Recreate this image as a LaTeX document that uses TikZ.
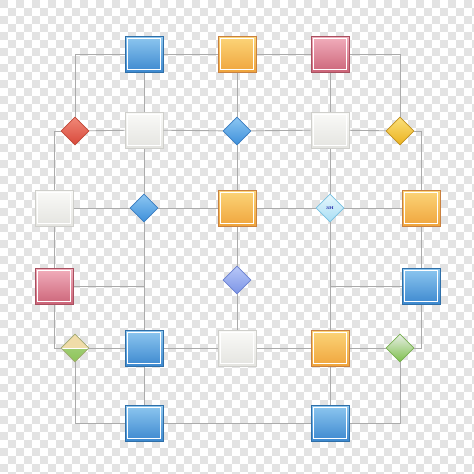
\documentclass[tikz,border=0pt]{standalone}
\usetikzlibrary{shapes.geometric}
\definecolor{chk}{HTML}{E3E3E3}
\definecolor{conn}{HTML}{ABABAB}
\definecolor{bT}{HTML}{8FC8F0}\definecolor{bB}{HTML}{3C88CF}\definecolor{bD}{HTML}{2F6FA8}
\definecolor{oT}{HTML}{FCD67A}\definecolor{oB}{HTML}{EFA43C}\definecolor{oD}{HTML}{C88040}
\definecolor{pT}{HTML}{F2B0BE}\definecolor{pB}{HTML}{CC6478}\definecolor{pD}{HTML}{A8505F}
\definecolor{wT}{HTML}{FAFAF8}\definecolor{wB}{HTML}{E4E4E0}\definecolor{wD}{HTML}{CFCFCB}
\definecolor{rT}{HTML}{F08878}\definecolor{rB}{HTML}{D8483A}\definecolor{rD}{HTML}{C04838}
\definecolor{dbT}{HTML}{8CC6F2}\definecolor{dbB}{HTML}{3E90DA}\definecolor{dbD}{HTML}{3A7CC0}
\definecolor{lT}{HTML}{B8C8F8}\definecolor{lB}{HTML}{7C94E6}\definecolor{lD}{HTML}{6A80D0}
\definecolor{yT}{HTML}{FBE07A}\definecolor{yB}{HTML}{EBB21E}\definecolor{yD}{HTML}{C09020}
\definecolor{cT}{HTML}{E6F7FD}\definecolor{cB}{HTML}{A8DEF4}\definecolor{cD}{HTML}{78C0E0}
\definecolor{ygT}{HTML}{F0DCA8}\definecolor{ygB}{HTML}{8CC458}\definecolor{ygD}{HTML}{A0A870}
\definecolor{gT}{HTML}{E8EEE6}\definecolor{gB}{HTML}{7CBF4A}\definecolor{gD}{HTML}{78B050}
\begin{document}
\begin{tikzpicture}[x=1pt,y=-1pt,
  conn/.style={draw=conn, line width=0.9pt},
  box/.style={rectangle, minimum width=38pt, minimum height=36pt, inner sep=0pt, line width=1pt,
    path picture={\draw[white, line width=0.9pt] ([xshift=2.2pt,yshift=-2.2pt]path picture bounding box.north west) rectangle ([xshift=-2.2pt,yshift=2.2pt]path picture bounding box.south east);}},
  bluebox/.style={box, draw=bD, top color=bT, bottom color=bB},
  orangebox/.style={box, draw=oD, top color=oT, bottom color=oB},
  pinkbox/.style={box, draw=pD, top color=pT, bottom color=pB},
  whitebox/.style={box, draw=wD, top color=wT, bottom color=wB},
  dia/.style={diamond, minimum width=28pt, minimum height=28pt, inner sep=0pt, line width=0.8pt},
  reddia/.style={dia, draw=rD, top color=rT, bottom color=rB},
  bluedia/.style={dia, draw=dbD, top color=dbT, bottom color=dbB},
  lavdia/.style={dia, draw=lD, top color=lT, bottom color=lB},
  yeldia/.style={dia, draw=yD, top color=yT, bottom color=yB},
  cyandia/.style={dia, draw=cD, top color=cT, bottom color=cB},
  ygdia/.style={dia, draw=ygD, fill=ygT,
    path picture={\shade[top color=ygB!70!white, bottom color=ygB] (path picture bounding box.west) -- (path picture bounding box.east) -- (path picture bounding box.south) -- cycle;
      \draw[white, line width=0.6pt] (path picture bounding box.west) -- (path picture bounding box.east);}},
  grdia/.style={dia, draw=gD, top color=gT, bottom color=gB}
]
\useasboundingbox (0,0) rectangle (474,474);
% checkerboard background
\fill[white] (0,0) rectangle (474,474);
\begin{scope}
\clip (0,0) rectangle (474,474);
\foreach \i in {0,2,...,58}{
  \foreach \j in {0,2,...,58}{
    \fill[chk] (\i*8,\j*8) rectangle ++(8,8);
    \fill[chk] (\i*8+8,\j*8+8) rectangle ++(8,8);
  }
}
\end{scope}
% nodes
\node[bluebox]   (b1)  at (144,54) {};
\node[orangebox] (o1)  at (237,54) {};
\node[pinkbox]   (p1)  at (330,54) {};
\node[reddia]    (dR)  at (75,131) {};
\node[whitebox]  (w1)  at (144,130) {};
\node[bluedia]   (dB1) at (237,131) {};
\node[whitebox]  (w2)  at (330,130) {};
\node[yeldia]    (dY)  at (400,131) {};
\node[whitebox]  (w3)  at (54,208) {};
\node[bluedia]   (dB2) at (144,208) {};
\node[orangebox] (o2)  at (237,208) {};
\node[cyandia]   (d3H) at (330,208) {\fontsize{4}{4}\selectfont\bfseries\color{blue!60!black}3H};
\node[orangebox] (o3)  at (421,208) {};
\node[pinkbox]   (p2)  at (54,286) {};
\node[lavdia]    (dL)  at (237,280) {};
\node[bluebox]   (b2)  at (421,286) {};
\node[ygdia]     (dYG) at (75,348) {};
\node[bluebox]   (b3)  at (144,348) {};
\node[whitebox]  (w4)  at (237,348) {};
\node[orangebox] (o4)  at (330,348) {};
\node[grdia]     (dG)  at (400,348) {};
\node[bluebox]   (b4)  at (144,423) {};
\node[bluebox]   (b5)  at (330,423) {};
% connectors
\begin{scope}[conn]
\draw (dR) |- (b1);
\draw (b1) -- (o1);
\draw (o1) -- (p1);
\draw (p1) -| (dY);
\draw (b1) -- (w1);
\draw (w1) -- (dB2);
\draw (dB2) -- (b3);
\draw (b3) -- (b4);
\draw (o1) -- (dB1);
\draw (dB1) -- (o2);
\draw (o2) -- (dL);
\draw (dL) -- (w4);
\draw (p1) -- (w2);
\draw (w2) -- (d3H);
\draw (d3H) -- (o4);
\draw (o4) -- (b5);
\draw (w3) |- (dR);
\draw (dR) -- (w1);
\draw (w1) -- (dB1);
\draw (dB1) -- (w2);
\draw (w2) -- (dY);
\draw (dY) -| (o3);
\draw (w3) -- (dB2);
\draw (dB2) -- (o2);
\draw (o2) -- (d3H);
\draw (d3H) -- (o3);
\draw (w3) -- (p2);
\draw (p2) |- (dYG);
\coordinate (pj) at (p2 -| dB2);
\draw (p2) -- (pj);
\draw (o3) -- (b2);
\coordinate (bj) at (b2 -| d3H);
\draw (b2) -- (bj);
\draw (b2) |- (dG);
\draw (dYG) -- (b3);
\draw (b3) -- (w4);
\draw (w4) -- (o4);
\draw (o4) -- (dG);
\draw (dYG) |- (b4);
\draw (b4) -- (b5);
\draw (dG) |- (b5);
\end{scope}
\end{tikzpicture}
\end{document}
